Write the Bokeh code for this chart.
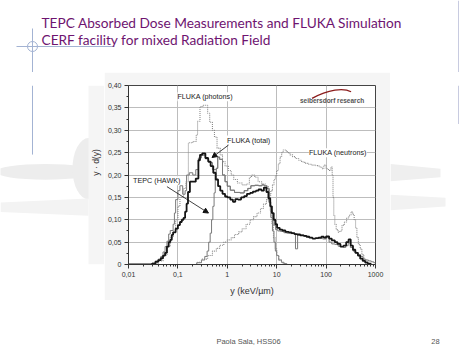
import numpy as np
from bokeh.plotting import figure
from bokeh.layouts import column, row
from bokeh.models import Range1d, FixedTicker, CustomJSTickFormatter, Label, Arrow, NormalHead
from bokeh.core.properties import value
from bokeh.embed import file_html
from bokeh.resources import INLINE

# ---------------- data ----------------
x_ticks = [0.01, 0.1, 1, 10, 100, 1000]
y_ticks = [0, 0.05, 0.10, 0.15, 0.20, 0.25, 0.30, 0.35, 0.40]

# thick black histogram (FLUKA total)
total_x = [0.01, 0.03, 0.035, 0.04, 0.045, 0.05, 0.055, 0.06, 0.065, 0.07, 0.075, 0.08, 0.09, 0.1,
           0.11, 0.12, 0.13, 0.14, 0.15, 0.16, 0.175, 0.2, 0.23, 0.26, 0.28, 0.31, 0.36, 0.41, 0.46,
           0.52, 0.58, 0.65, 0.72, 0.8, 0.9, 1.0, 1.15, 1.3, 1.45, 1.65, 1.9, 2.2, 2.5, 2.9, 3.3,
           3.8, 4.3, 4.9, 5.5, 6.2, 6.8, 7.4, 8.0, 8.7, 9.4, 10.2, 11.5, 13, 15, 17.5, 20, 23, 26,
           30, 35, 40, 46, 53, 61, 70, 80, 90, 100, 115, 130, 150, 170, 195, 225, 255, 285, 315,
           350, 390, 440, 490, 550, 620, 700, 800]
total_y = [0, 0.002, 0.006, 0.010, 0.014, 0.020, 0.026, 0.040, 0.050, 0.055, 0.066, 0.072, 0.080, 0.088,
           0.095, 0.100, 0.104, 0.118, 0.136, 0.162, 0.185, 0.185, 0.192, 0.233, 0.245, 0.248, 0.238, 0.230, 0.220,
           0.205, 0.190, 0.175, 0.165, 0.158, 0.152, 0.150, 0.145, 0.140, 0.146, 0.145, 0.150, 0.153, 0.158, 0.160, 0.163,
           0.165, 0.168, 0.165, 0.172, 0.162, 0.148, 0.130, 0.115, 0.100, 0.090, 0.082, 0.078, 0.076, 0.073, 0.072, 0.070, 0.068, 0.067,
           0.065, 0.064, 0.062, 0.060, 0.058, 0.059, 0.060, 0.062, 0.060, 0.063, 0.058, 0.054, 0.050, 0.046, 0.040, 0.042, 0.050, 0.056, 0.042,
           0.033, 0.026, 0.020, 0.013, 0.008, 0.004, 0.002, 0.0]

# thin grey solid histogram (TEPC HAWK)
tepc_x = [0.01, 0.03, 0.035, 0.04, 0.045, 0.05, 0.055, 0.06, 0.065, 0.07, 0.08, 0.085, 0.09, 0.1,
          0.11, 0.125, 0.14, 0.15, 0.17, 0.2, 0.23, 0.26, 0.3, 0.36, 0.42, 0.5, 0.6, 0.64, 0.7,
          0.8, 0.9, 1.0, 1.15, 1.4, 1.8, 2.2, 2.6, 3.0, 3.6, 4.3, 5.0, 5.6, 6.3, 7.0, 7.5, 8.2,
          8.8, 9.5, 10.5, 12, 14, 16, 19, 22, 24, 26.5, 30, 36, 44, 52, 62, 72, 85, 100, 115, 130,
          150, 175, 200, 225, 250, 280, 310, 350, 400, 450, 500, 560, 630, 720, 820, 920, 1000]
tepc_y = [0, 0.003, 0.008, 0.012, 0.018, 0.028, 0.040, 0.052, 0.068, 0.076, 0.090, 0.115, 0.145, 0.165,
          0.176, 0.157, 0.165, 0.200, 0.205, 0.200, 0.212, 0.238, 0.244, 0.236, 0.228, 0.212, 0.215, 0.240, 0.235,
          0.200, 0.185, 0.175, 0.166, 0.161, 0.160, 0.165, 0.170, 0.176, 0.177, 0.176, 0.178, 0.176, 0.170, 0.138, 0.118, 0.100,
          0.088, 0.078, 0.075, 0.074, 0.071, 0.070, 0.069, 0.068, 0.035, 0.066, 0.066, 0.063, 0.060, 0.058, 0.058, 0.058, 0.057, 0.060, 0.050, 0.046,
          0.045, 0.041, 0.040, 0.038, 0.042, 0.048, 0.038, 0.030, 0.026, 0.022, 0.018, 0.012, 0.010, 0.008, 0.006, 0.004, 0.004]

# thin grey solid histogram with low threshold (rises at 0.3, gone above 15)
thr_x = [0.18, 0.24, 0.3, 0.35, 0.39, 0.42, 0.45, 0.48, 0.51, 0.54, 0.57, 0.6, 0.64, 0.7, 0.8, 0.9,
         1.0, 1.15, 1.4, 1.8, 2.2, 2.6, 3.0, 3.6, 4.3, 5.0, 5.6, 6.3, 7.0, 7.6, 8.2, 8.8, 9.4, 10,
         11, 12.5, 14, 16]
thr_y = [0.0, 0.004, 0.010, 0.018, 0.030, 0.050, 0.070, 0.100, 0.130, 0.160, 0.190, 0.215, 0.240, 0.235, 0.200, 0.185,
         0.175, 0.166, 0.161, 0.160, 0.165, 0.170, 0.176, 0.177, 0.176, 0.178, 0.176, 0.170, 0.140, 0.105, 0.075, 0.050, 0.030, 0.020,
         0.010, 0.005, 0.002, 0.0]

# dotted: FLUKA (photons)
phot_x = [0.01, 0.03, 0.04, 0.05, 0.06, 0.07, 0.08, 0.09, 0.1, 0.11, 0.13, 0.145, 0.163, 0.2, 0.235,
          0.25, 0.28, 0.32, 0.4, 0.44, 0.5, 0.55, 0.62, 0.72, 0.8, 0.9, 1.05, 1.2, 1.35, 1.6, 2.0,
          2.5, 2.8, 3.1, 3.6, 4.2, 5.0, 6.0, 6.8, 7.4, 8.0, 8.6, 9.3, 10, 11, 12.5, 14]
phot_y = [0, 0.002, 0.008, 0.020, 0.040, 0.060, 0.075, 0.100, 0.130, 0.150, 0.170, 0.185, 0.272, 0.275, 0.290,
          0.320, 0.353, 0.356, 0.338, 0.318, 0.300, 0.285, 0.260, 0.245, 0.230, 0.220, 0.210, 0.200, 0.190, 0.182, 0.178,
          0.180, 0.195, 0.200, 0.195, 0.185, 0.180, 0.175, 0.150, 0.120, 0.090, 0.060, 0.035, 0.020, 0.010, 0.004, 0.0]

# dotted: FLUKA (neutrons)
neut_x = [0.17, 0.25, 0.3, 0.4, 0.5, 0.6, 0.7, 0.85, 1.0, 1.2, 1.4, 1.7, 2.0, 2.4, 2.9, 3.4, 4.0,
          4.7, 5.4, 6.2, 7.0, 7.6, 8.2, 8.8, 9.4, 10, 10.8, 11.7, 12.6, 13.5, 15, 16.5, 18.5, 21,
          24, 28, 32, 37, 44, 52, 62, 72, 82, 90, 100, 112, 125, 133, 138, 143, 150, 160, 175,
          190, 210, 235, 260, 290, 320, 345, 370, 395, 420, 450, 490, 530, 580, 640, 700, 760]
neut_y = [0, 0.005, 0.012, 0.020, 0.030, 0.036, 0.043, 0.050, 0.055, 0.060, 0.067, 0.073, 0.080, 0.090, 0.100, 0.107, 0.115,
          0.125, 0.135, 0.145, 0.155, 0.165, 0.178, 0.190, 0.198, 0.210, 0.225, 0.240, 0.250, 0.256, 0.254, 0.250, 0.245, 0.241,
          0.237, 0.233, 0.229, 0.226, 0.224, 0.222, 0.221, 0.218, 0.214, 0.222, 0.214, 0.210, 0.218, 0.200, 0.150, 0.110, 0.090, 0.078, 0.072,
          0.075, 0.088, 0.095, 0.104, 0.110, 0.118, 0.112, 0.100, 0.082, 0.060, 0.045, 0.035, 0.022, 0.012, 0.006, 0.002, 0.0]

title_lines = ["TEPC Absorbed Dose Measurements and FLUKA Simulation",
               "CERF facility for mixed Radiation Field"]
footer_left = "Paola Sala, HSS06"
footer_right = "28"
y_label = "y · d(y)"
x_label = "y (keV/µm)"

# ---------------- page geometry (pixels) ----------------
W, H = 474, 355
PX0, PX1, PY0, PY1 = 88, 390, 72, 300      # grey picture panel
FL, FR, FT, FB = 128, 375, 85, 264          # chart frame
CX0 = 104                                   # chart figure starts here (left band holds y label)
PANEL = "#f5f5f5"
DECO = "#a3b3d3"
WM = "#ededed"


def deco_fig(x0, x1, y0, y1, fill="white"):
    f = figure(width=x1 - x0, height=y1 - y0, x_range=Range1d(x0, x1), y_range=Range1d(y1, y0),
               output_backend="svg", toolbar_location=None, title=None, min_border=0,
               x_axis_location=None, y_axis_location=None)
    f.grid.visible = False
    f.outline_line_color = None
    f.background_fill_color = fill
    f.border_fill_color = fill
    return f


# --- top band: title and blue decoration
top = deco_fig(0, W, 0, PY0)
top.line([32, 32], [28, PY0], line_color=DECO, line_width=1)
top.line([16, 114], [46, 46], line_color=DECO, line_width=1)
top.ellipse(x=[32], y=[46], width=10, height=10, fill_alpha=0, line_color=DECO, line_width=1)
top.line([458, 458], [0, PY0], line_color="#c8cbe0", line_width=1)
top.text(x=[41, 41], y=[13, 30], text=title_lines, text_font=value("Lato"),
         text_font_size="13.7px", text_color="#6e1470", text_baseline="top", text_align="left")

# --- left band: watermark, start of grey panel, y axis title
left = deco_fig(0, CX0, PY0, PY1)
left.ellipse(x=[45], y=[182], width=100, height=20, fill_color=WM, line_alpha=0)
left.ellipse(x=[88], y=[178], width=32, height=78, fill_color=WM, line_alpha=0)
left.patch([0, 88, 88, 0], [221, 216, 238, 233], fill_color="#f3f3f3", line_alpha=0)
left.line([32, 32], [PY0, 160], line_color=DECO, line_width=1)
left.quad(left=[PX0], right=[CX0], top=[PY0], bottom=[PY1], fill_color=PANEL, line_alpha=0)
left.text(x=[95.5], y=[170], text=[y_label], angle=np.pi / 2, text_font=value("Liberation Sans"),
          text_font_size="8.5px", text_color="#333333", text_align="center",
          text_baseline="middle")

# --- right band: watermark
right = deco_fig(PX1, W, PY0, PY1)
right.patch([390, 440, 440, 390], [172, 178, 189, 194], fill_color="#efefef", line_alpha=0)
right.patch([390, 445, 445, 390], [211, 215, 226, 231], fill_color="#f2f2f2", line_alpha=0)
right.line([458, 458], [PY0, 121], line_color="#c8cbe0", line_width=1)

# --- bottom band: footer
bot = deco_fig(0, W, PY1, H)
bot.text(x=[248, 435], y=[341, 341], text=[footer_left, footer_right],
         text_font=value("Liberation Sans"), text_font_size="7.5px", text_color="#555555",
         text_baseline="middle", text_align="center")

# --- chart
p = figure(width=PX1 - CX0, height=PY1 - PY0, x_axis_type="log",
           x_range=Range1d(0.01, 1000), y_range=Range1d(0, 0.4),
           output_backend="svg", toolbar_location=None, title=None,
           min_border_left=FL - CX0, min_border_right=PX1 - FR,
           min_border_top=FT - PY0, min_border_bottom=PY1 - FB)
p.border_fill_color = PANEL
p.background_fill_color = "white"
p.outline_line_color = "#444444"
p.outline_line_width = 1

minor_x = [m * 10.0 ** k for k in range(-2, 3) for m in range(2, 10)]
p.xaxis.ticker = FixedTicker(ticks=x_ticks, minor_ticks=minor_x)
p.xaxis.formatter = CustomJSTickFormatter(code="return String(tick).replace('.', ',');")
minor_y = [0.025 + 0.05 * i for i in range(8)]
p.yaxis.ticker = FixedTicker(ticks=y_ticks, minor_ticks=minor_y)
p.yaxis.formatter = CustomJSTickFormatter(
    code="return tick == 0 ? '0' : tick.toFixed(2).replace('.', ',');")
for ax in (p.xaxis[0], p.yaxis[0]):
    ax.axis_line_color = "#333333"
    ax.major_tick_line_color = "#333333"
    ax.minor_tick_line_color = "#333333"
    ax.major_tick_in = 0
    ax.major_tick_out = 4
    ax.minor_tick_in = 0
    ax.minor_tick_out = 2
    ax.major_label_text_font = "Liberation Sans"
    ax.major_label_text_font_size = "7px"
    ax.major_label_text_color = "#333333"
    ax.major_label_standoff = 3
    ax.axis_label_text_font = "Liberation Sans"
    ax.axis_label_text_font_style = "normal"
    ax.axis_label_text_color = "#333333"
p.xaxis.axis_label = x_label
p.xaxis.axis_label_text_font_size = "9px"
p.xaxis.axis_label_standoff = 6

p.xgrid.grid_line_color = "#bdbdbd"
p.ygrid.grid_line_color = "#bdbdbd"

p.step(thr_x, thr_y, mode="after", line_color="#7a7a7a", line_width=1)
p.step(tepc_x, tepc_y, mode="after", line_color="#7a7a7a", line_width=1)
p.step(neut_x, neut_y, mode="after", line_color="#8a8a8a", line_width=1.1, line_dash="1 1")
p.step(phot_x, phot_y, mode="after", line_color="#8a8a8a", line_width=1.1, line_dash="1 1")
p.step(total_x, total_y, mode="after", line_color="#151515", line_width=1.8)

# logo
p.bezier(x0=[52], y0=[0.371], x1=[320], y1=[0.386], cx0=[110], cy0=[0.392],
         cx1=[230], cy1=[0.395], line_color="#8b1c1c", line_width=1.4)
p.add_layout(Label(x=132, y=0.366, text="seibersdorf research", text_align="center",
                   text_baseline="middle", text_font="Liberation Sans", text_font_style="bold",
                   text_font_size="6.5px", text_color="#555555"))

lab = dict(text_align="center", text_baseline="middle", text_font="Liberation Sans",
           text_font_size="7.2px", text_color="#222222", background_fill_color="white",
           background_fill_alpha=1)
p.add_layout(Label(x=0.357, y=0.375, text="FLUKA (photons)", **lab))
p.add_layout(Label(x=2.72, y=0.278, text="FLUKA (total)", **lab))
p.add_layout(Label(x=173, y=0.25, text="FLUKA (neutrons)", **lab))
p.add_layout(Label(x=0.0373, y=0.187, text="TEPC (HAWK)", **lab))
p.add_layout(Arrow(x_start=1.06, y_start=0.267, x_end=0.49, y_end=0.239, line_width=0.8,
                   line_color="#111111",
                   end=NormalHead(size=5, fill_color="#111111", line_color="#111111")))
p.add_layout(Arrow(x_start=0.06, y_start=0.174, x_end=0.416, y_end=0.115, line_width=0.8,
                   line_color="#111111",
                   end=NormalHead(size=5, fill_color="#111111", line_color="#111111")))

layout = column(top, row(left, p, right), bot)
open("out.html", "w").write(file_html(layout, INLINE))
